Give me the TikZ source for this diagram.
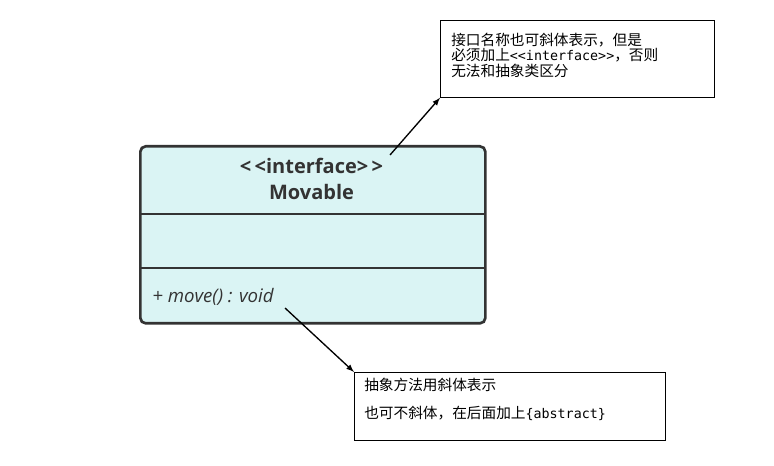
\documentclass[tikz,border=0pt]{standalone}
\usepackage{fontspec}
\setmainfont{Open Sans}
\newfontfamily\cjk{Noto Sans CJK SC}
\setmonofont{DejaVu Sans Mono}
\begin{document}
\begin{tikzpicture}[x=0.75pt,y=-0.75pt,
  arr/.style={->,>=latex,line width=1pt}]
\useasboundingbox[fill=white] (0,0) rectangle (774,466);
\definecolor{cls}{HTML}{DAF4F4}
\definecolor{bd}{HTML}{333333}
\node[draw=bd,fill=cls,line width=2pt,rounded corners=4pt,minimum width=345*0.75pt,minimum height=177*0.75pt,anchor=north west,inner sep=0] (cls) at (139,145) {};
\draw[bd,line width=2pt] (139,214) -- (484,214) (139,268) -- (484,268);
\node[text=bd,font=\bfseries\fontsize{15}{19}\selectfont,align=center] (title) at (311.5,179) {<\,<interface>\,>\\Movable};
\node[text=bd,font=\itshape\fontsize{14}{16}\selectfont,anchor=west,inner sep=0] (op) at (152,297) {+ move() : void};
\node[draw,line width=0.6pt,minimum width=274*0.75pt,minimum height=77*0.75pt,anchor=north west] (n1) at (440,20) {};
\node[anchor=north west,align=left,font=\cjk\fontsize{11}{11.5}\selectfont,inner sep=0] (t1) at (451,33) {接口名称也可斜体表示，但是\\必须加上{\ttfamily\fontsize{10}{11.5}\selectfont<<interface>>}，否则\\无法和抽象类区分};
\node[draw,line width=0.6pt,minimum width=311*0.75pt,minimum height=68*0.75pt,anchor=north west] (n2) at (354,372) {};
\node[anchor=north west,align=left,font=\cjk\fontsize{11}{12}\selectfont,inner sep=0] (t2) at (364,378) {抽象方法用斜体表示\\[9pt]也可不斜体，在后面加上{\ttfamily\fontsize{10}{12}\selectfont\{abstract\}}};
\coordinate (a1) at (390,155);
\coordinate (a2) at (285,308);
\draw[arr] (a1) -- (n1.south west);
\draw[arr] (a2) -- (n2.north west);
\end{tikzpicture}
\end{document}
